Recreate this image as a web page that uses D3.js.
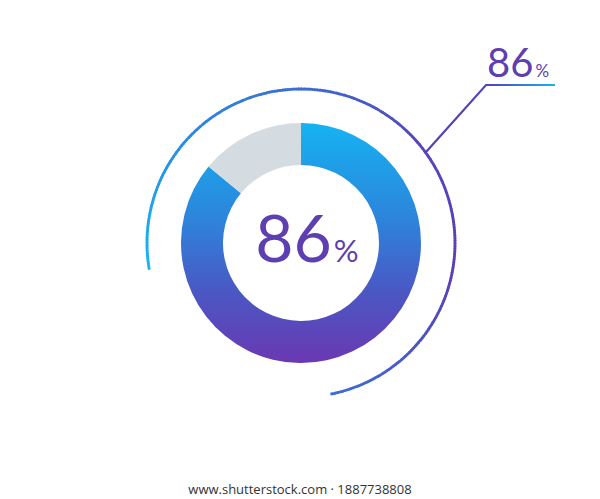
<!DOCTYPE html>
<html>
<head>
<meta charset="utf-8">
<script src="https://cdn.jsdelivr.net/npm/d3@7"></script>
<style>
  html, body { margin: 0; padding: 0; background: #fff; }
  svg { display: block; }
</style>
</head>
<body>
<svg id="chart" width="600" height="499"></svg>
<script>
// data
const percent = 86;
const sliceNames = ["filled", "rest"];
const sliceValues = [86, 14];
const sliceColors = ["url(#donutGrad)", "#d5dce1"];
const labelNumber = "86";
const labelUnit = "%";
const footerText = "www.shutterstock.com \u00b7 1887738808";

// colour stops of the outer ring, by angle in degrees (0 = top, clockwise)
const ringStopAngles = [-100, -50, 0, 50, 100, 169];
const ringStopColors = ["#16b6f2", "#2a8ce0", "#3c6cd2", "#5546bc", "#5c3fb6", "#3b6ed3"];

const svg = d3.select("#chart");
const cx = 301, cy = 243;

const defs = svg.append("defs");

// gradient coordinates are in the donut group's own space (centre at 0,0)
const donutGrad = defs.append("linearGradient")
  .attr("id", "donutGrad")
  .attr("gradientUnits", "userSpaceOnUse")
  .attr("x1", 0).attr("y1", -120)
  .attr("x2", 0).attr("y2", 120);
[["0%", "#15b3f1"], ["40%", "#2d84db"], ["70%", "#4a58c4"], ["100%", "#6a38b2"]]
  .forEach(([o, c]) => donutGrad.append("stop").attr("offset", o).attr("stop-color", c));

const leaderGrad = defs.append("linearGradient")
  .attr("id", "leaderGrad")
  .attr("gradientUnits", "userSpaceOnUse")
  .attr("x1", 425).attr("y1", 0)
  .attr("x2", 556).attr("y2", 0);
[["0%", "#5a3fb6"], ["50%", "#5046bc"], ["100%", "#19b4ef"]]
  .forEach(([o, c]) => leaderGrad.append("stop").attr("offset", o).attr("stop-color", c));

const g = svg.append("g").attr("transform", `translate(${cx},${cy})`);

// donut
const pie = d3.pie().sort(null).value((d) => d.value);
const arcs = pie(sliceNames.map((n, i) => ({ name: n, value: sliceValues[i], color: sliceColors[i] })));
const donutArc = d3.arc().innerRadius(78).outerRadius(120);

g.selectAll(".slice")
  .data(arcs)
  .enter()
  .append("path")
  .attr("class", "slice")
  .attr("fill", (d) => d.data.color)
  .attr("d", donutArc);

// outer ring drawn as small pieces so the colour can follow the angle
const ringColor = d3.scaleLinear()
  .domain(ringStopAngles)
  .range(ringStopColors)
  .interpolate(d3.interpolateRgb);
const ringArc = d3.arc().innerRadius(152.6).outerRadius(155.4);
const rad = Math.PI / 180;
const ringEnd = ringStopAngles[ringStopAngles.length - 1];
const pieces = d3.range(ringStopAngles[0], ringEnd, 1);

g.selectAll(".ring")
  .data(pieces)
  .enter()
  .append("path")
  .attr("class", "ring")
  .attr("fill", (a) => ringColor(a + 0.5))
  .attr("d", (a) => ringArc({ startAngle: a * rad, endAngle: Math.min(a + 1.3, ringEnd) * rad }));

// leader line from the ring to the label
const leaderStart = d3.pointRadial(54 * rad, 154);
const leaderPts = [
  [cx + leaderStart[0], cy + leaderStart[1]],
  [486, 85],
  [555, 85],
];
svg.append("path")
  .attr("d", d3.line()(leaderPts))
  .attr("fill", "none")
  .attr("stroke", "url(#leaderGrad)")
  .attr("stroke-width", 2.2);

// labels
const labelFont = "Lato, 'Open Sans', sans-serif";
const textColor = "#5d3fb1";

const center = svg.append("text")
  .attr("x", cx + 6)
  .attr("y", 262)
  .attr("text-anchor", "middle")
  .attr("font-family", labelFont)
  .attr("fill", textColor);
center.append("tspan").attr("font-size", 66).text(labelNumber);
center.append("tspan").attr("font-size", 31).attr("dx", 2).text(labelUnit);

const side = svg.append("text")
  .attr("x", 487)
  .attr("y", 77)
  .attr("font-family", labelFont)
  .attr("fill", textColor);
side.append("tspan").attr("font-size", 40).text(labelNumber);
side.append("tspan").attr("font-size", 17).attr("dx", 2).text(labelUnit);

svg.append("text")
  .attr("x", 300)
  .attr("y", 494)
  .attr("text-anchor", "middle")
  .attr("font-family", "'Open Sans', 'DejaVu Sans', sans-serif")
  .attr("font-size", 13)
  .attr("fill", "#333")
  .text(footerText);
</script>
</body>
</html>
